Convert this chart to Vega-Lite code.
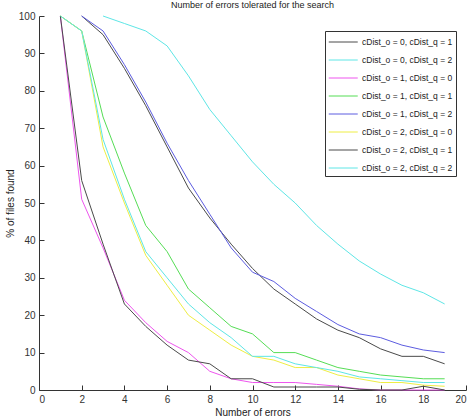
{
  "$schema": "https://vega.github.io/schema/vega-lite/v6.json",
  "width": 427,
  "height": 374,
  "autosize": {"type": "none"},
  "padding": {"left": 39, "top": 16, "right": 8, "bottom": 28},
  "background": "white",
  "title": {"text": "Number of errors tolerated for the search", "fontSize": 9, "fontWeight": "normal", "font": "Liberation Sans", "offset": 1, "anchor": "middle", "color": "#222"},
  "config": {
    "view": {"stroke": null},
    "font": "Liberation Sans",
    "axis": {"domainColor": "#333", "tickColor": "#333", "labelColor": "#333", "titleColor": "#222", "labelFont": "Liberation Sans", "titleFont": "Liberation Sans", "labelFontSize": 10, "titleFontSize": 10, "titleFontWeight": "normal", "grid": false, "tickSize": -5, "labelPadding": 9}
  },
  "data": {"values": [
    {"s": "cDist_o = 0, cDist_q = 1", "x": 2, "y": 100}, {"s": "cDist_o = 0, cDist_q = 1", "x": 3, "y": 95}, {"s": "cDist_o = 0, cDist_q = 1", "x": 4, "y": 86}, {"s": "cDist_o = 0, cDist_q = 1", "x": 5, "y": 76}, {"s": "cDist_o = 0, cDist_q = 1", "x": 6, "y": 65}, {"s": "cDist_o = 0, cDist_q = 1", "x": 7, "y": 54}, {"s": "cDist_o = 0, cDist_q = 1", "x": 8, "y": 46}, {"s": "cDist_o = 0, cDist_q = 1", "x": 9, "y": 39}, {"s": "cDist_o = 0, cDist_q = 1", "x": 10, "y": 32.5}, {"s": "cDist_o = 0, cDist_q = 1", "x": 11, "y": 27}, {"s": "cDist_o = 0, cDist_q = 1", "x": 12, "y": 23}, {"s": "cDist_o = 0, cDist_q = 1", "x": 13, "y": 19}, {"s": "cDist_o = 0, cDist_q = 1", "x": 14, "y": 16}, {"s": "cDist_o = 0, cDist_q = 1", "x": 15, "y": 14}, {"s": "cDist_o = 0, cDist_q = 1", "x": 16, "y": 11}, {"s": "cDist_o = 0, cDist_q = 1", "x": 17, "y": 9}, {"s": "cDist_o = 0, cDist_q = 1", "x": 18, "y": 9}, {"s": "cDist_o = 0, cDist_q = 1", "x": 19, "y": 7},
    {"s": "cDist_o = 0, cDist_q = 2", "x": 3, "y": 100}, {"s": "cDist_o = 0, cDist_q = 2", "x": 4, "y": 98}, {"s": "cDist_o = 0, cDist_q = 2", "x": 5, "y": 96}, {"s": "cDist_o = 0, cDist_q = 2", "x": 6, "y": 92}, {"s": "cDist_o = 0, cDist_q = 2", "x": 7, "y": 84}, {"s": "cDist_o = 0, cDist_q = 2", "x": 8, "y": 75}, {"s": "cDist_o = 0, cDist_q = 2", "x": 9, "y": 68}, {"s": "cDist_o = 0, cDist_q = 2", "x": 10, "y": 61}, {"s": "cDist_o = 0, cDist_q = 2", "x": 11, "y": 55}, {"s": "cDist_o = 0, cDist_q = 2", "x": 12, "y": 50}, {"s": "cDist_o = 0, cDist_q = 2", "x": 13, "y": 44}, {"s": "cDist_o = 0, cDist_q = 2", "x": 14, "y": 39}, {"s": "cDist_o = 0, cDist_q = 2", "x": 15, "y": 34.5}, {"s": "cDist_o = 0, cDist_q = 2", "x": 16, "y": 31}, {"s": "cDist_o = 0, cDist_q = 2", "x": 17, "y": 28}, {"s": "cDist_o = 0, cDist_q = 2", "x": 18, "y": 26}, {"s": "cDist_o = 0, cDist_q = 2", "x": 19, "y": 23},
    {"s": "cDist_o = 1, cDist_q = 0", "x": 1, "y": 100}, {"s": "cDist_o = 1, cDist_q = 0", "x": 2, "y": 51}, {"s": "cDist_o = 1, cDist_q = 0", "x": 3, "y": 38}, {"s": "cDist_o = 1, cDist_q = 0", "x": 4, "y": 24}, {"s": "cDist_o = 1, cDist_q = 0", "x": 5, "y": 18}, {"s": "cDist_o = 1, cDist_q = 0", "x": 6, "y": 13}, {"s": "cDist_o = 1, cDist_q = 0", "x": 7, "y": 10}, {"s": "cDist_o = 1, cDist_q = 0", "x": 8, "y": 5}, {"s": "cDist_o = 1, cDist_q = 0", "x": 9, "y": 3}, {"s": "cDist_o = 1, cDist_q = 0", "x": 10, "y": 2}, {"s": "cDist_o = 1, cDist_q = 0", "x": 11, "y": 2}, {"s": "cDist_o = 1, cDist_q = 0", "x": 12, "y": 2}, {"s": "cDist_o = 1, cDist_q = 0", "x": 13, "y": 1.5}, {"s": "cDist_o = 1, cDist_q = 0", "x": 14, "y": 1}, {"s": "cDist_o = 1, cDist_q = 0", "x": 15, "y": 0.3}, {"s": "cDist_o = 1, cDist_q = 0", "x": 16, "y": 0}, {"s": "cDist_o = 1, cDist_q = 0", "x": 17, "y": 0}, {"s": "cDist_o = 1, cDist_q = 0", "x": 18, "y": 0}, {"s": "cDist_o = 1, cDist_q = 0", "x": 19, "y": 0},
    {"s": "cDist_o = 1, cDist_q = 1", "x": 1, "y": 100}, {"s": "cDist_o = 1, cDist_q = 1", "x": 2, "y": 96}, {"s": "cDist_o = 1, cDist_q = 1", "x": 3, "y": 73}, {"s": "cDist_o = 1, cDist_q = 1", "x": 4, "y": 58}, {"s": "cDist_o = 1, cDist_q = 1", "x": 5, "y": 44}, {"s": "cDist_o = 1, cDist_q = 1", "x": 6, "y": 37}, {"s": "cDist_o = 1, cDist_q = 1", "x": 7, "y": 27}, {"s": "cDist_o = 1, cDist_q = 1", "x": 8, "y": 22}, {"s": "cDist_o = 1, cDist_q = 1", "x": 9, "y": 17}, {"s": "cDist_o = 1, cDist_q = 1", "x": 10, "y": 15}, {"s": "cDist_o = 1, cDist_q = 1", "x": 11, "y": 10}, {"s": "cDist_o = 1, cDist_q = 1", "x": 12, "y": 10}, {"s": "cDist_o = 1, cDist_q = 1", "x": 13, "y": 8}, {"s": "cDist_o = 1, cDist_q = 1", "x": 14, "y": 6}, {"s": "cDist_o = 1, cDist_q = 1", "x": 15, "y": 5}, {"s": "cDist_o = 1, cDist_q = 1", "x": 16, "y": 4}, {"s": "cDist_o = 1, cDist_q = 1", "x": 17, "y": 3.5}, {"s": "cDist_o = 1, cDist_q = 1", "x": 18, "y": 3}, {"s": "cDist_o = 1, cDist_q = 1", "x": 19, "y": 3},
    {"s": "cDist_o = 1, cDist_q = 2", "x": 2, "y": 100}, {"s": "cDist_o = 1, cDist_q = 2", "x": 3, "y": 96}, {"s": "cDist_o = 1, cDist_q = 2", "x": 4, "y": 87}, {"s": "cDist_o = 1, cDist_q = 2", "x": 5, "y": 77}, {"s": "cDist_o = 1, cDist_q = 2", "x": 6, "y": 66}, {"s": "cDist_o = 1, cDist_q = 2", "x": 7, "y": 56}, {"s": "cDist_o = 1, cDist_q = 2", "x": 8, "y": 47}, {"s": "cDist_o = 1, cDist_q = 2", "x": 9, "y": 38}, {"s": "cDist_o = 1, cDist_q = 2", "x": 10, "y": 31.5}, {"s": "cDist_o = 1, cDist_q = 2", "x": 11, "y": 29}, {"s": "cDist_o = 1, cDist_q = 2", "x": 12, "y": 24.5}, {"s": "cDist_o = 1, cDist_q = 2", "x": 13, "y": 21}, {"s": "cDist_o = 1, cDist_q = 2", "x": 14, "y": 17.5}, {"s": "cDist_o = 1, cDist_q = 2", "x": 15, "y": 15}, {"s": "cDist_o = 1, cDist_q = 2", "x": 16, "y": 14}, {"s": "cDist_o = 1, cDist_q = 2", "x": 17, "y": 12}, {"s": "cDist_o = 1, cDist_q = 2", "x": 18, "y": 10.7}, {"s": "cDist_o = 1, cDist_q = 2", "x": 19, "y": 10},
    {"s": "cDist_o = 2, cDist_q = 0", "x": 1, "y": 100}, {"s": "cDist_o = 2, cDist_q = 0", "x": 2, "y": 96}, {"s": "cDist_o = 2, cDist_q = 0", "x": 3, "y": 65}, {"s": "cDist_o = 2, cDist_q = 0", "x": 4, "y": 50}, {"s": "cDist_o = 2, cDist_q = 0", "x": 5, "y": 36}, {"s": "cDist_o = 2, cDist_q = 0", "x": 6, "y": 28}, {"s": "cDist_o = 2, cDist_q = 0", "x": 7, "y": 20}, {"s": "cDist_o = 2, cDist_q = 0", "x": 8, "y": 16}, {"s": "cDist_o = 2, cDist_q = 0", "x": 9, "y": 12}, {"s": "cDist_o = 2, cDist_q = 0", "x": 10, "y": 9}, {"s": "cDist_o = 2, cDist_q = 0", "x": 11, "y": 8}, {"s": "cDist_o = 2, cDist_q = 0", "x": 12, "y": 6}, {"s": "cDist_o = 2, cDist_q = 0", "x": 13, "y": 6}, {"s": "cDist_o = 2, cDist_q = 0", "x": 14, "y": 4}, {"s": "cDist_o = 2, cDist_q = 0", "x": 15, "y": 3}, {"s": "cDist_o = 2, cDist_q = 0", "x": 16, "y": 2}, {"s": "cDist_o = 2, cDist_q = 0", "x": 17, "y": 2}, {"s": "cDist_o = 2, cDist_q = 0", "x": 18, "y": 1.3}, {"s": "cDist_o = 2, cDist_q = 0", "x": 19, "y": 1},
    {"s": "cDist_o = 2, cDist_q = 1", "x": 1, "y": 100}, {"s": "cDist_o = 2, cDist_q = 1", "x": 2, "y": 56}, {"s": "cDist_o = 2, cDist_q = 1", "x": 3, "y": 39}, {"s": "cDist_o = 2, cDist_q = 1", "x": 4, "y": 23}, {"s": "cDist_o = 2, cDist_q = 1", "x": 5, "y": 17}, {"s": "cDist_o = 2, cDist_q = 1", "x": 6, "y": 12}, {"s": "cDist_o = 2, cDist_q = 1", "x": 7, "y": 8}, {"s": "cDist_o = 2, cDist_q = 1", "x": 8, "y": 7}, {"s": "cDist_o = 2, cDist_q = 1", "x": 9, "y": 3}, {"s": "cDist_o = 2, cDist_q = 1", "x": 10, "y": 3}, {"s": "cDist_o = 2, cDist_q = 1", "x": 11, "y": 0.8}, {"s": "cDist_o = 2, cDist_q = 1", "x": 12, "y": 0.8}, {"s": "cDist_o = 2, cDist_q = 1", "x": 13, "y": 0.8}, {"s": "cDist_o = 2, cDist_q = 1", "x": 14, "y": 0.8}, {"s": "cDist_o = 2, cDist_q = 1", "x": 15, "y": 0.2}, {"s": "cDist_o = 2, cDist_q = 1", "x": 16, "y": 0}, {"s": "cDist_o = 2, cDist_q = 1", "x": 17, "y": 0}, {"s": "cDist_o = 2, cDist_q = 1", "x": 18, "y": 1}, {"s": "cDist_o = 2, cDist_q = 1", "x": 19, "y": 0},
    {"s": "cDist_o = 2, cDist_q = 2", "x": 1, "y": 100}, {"s": "cDist_o = 2, cDist_q = 2", "x": 2, "y": 96}, {"s": "cDist_o = 2, cDist_q = 2", "x": 3, "y": 67}, {"s": "cDist_o = 2, cDist_q = 2", "x": 4, "y": 51}, {"s": "cDist_o = 2, cDist_q = 2", "x": 5, "y": 37}, {"s": "cDist_o = 2, cDist_q = 2", "x": 6, "y": 30}, {"s": "cDist_o = 2, cDist_q = 2", "x": 7, "y": 23}, {"s": "cDist_o = 2, cDist_q = 2", "x": 8, "y": 18}, {"s": "cDist_o = 2, cDist_q = 2", "x": 9, "y": 14}, {"s": "cDist_o = 2, cDist_q = 2", "x": 10, "y": 9}, {"s": "cDist_o = 2, cDist_q = 2", "x": 11, "y": 9}, {"s": "cDist_o = 2, cDist_q = 2", "x": 12, "y": 7}, {"s": "cDist_o = 2, cDist_q = 2", "x": 13, "y": 6}, {"s": "cDist_o = 2, cDist_q = 2", "x": 14, "y": 5}, {"s": "cDist_o = 2, cDist_q = 2", "x": 15, "y": 3.5}, {"s": "cDist_o = 2, cDist_q = 2", "x": 16, "y": 3}, {"s": "cDist_o = 2, cDist_q = 2", "x": 17, "y": 2.5}, {"s": "cDist_o = 2, cDist_q = 2", "x": 18, "y": 2}, {"s": "cDist_o = 2, cDist_q = 2", "x": 19, "y": 2}
  ]},
  "mark": {"type": "line", "strokeWidth": 1},
  "encoding": {
    "x": {"field": "x", "type": "quantitative", "scale": {"domain": [0, 20], "nice": false}, "axis": {"title": "Number of errors", "values": [0, 2, 4, 6, 8, 10, 12, 14, 16, 18, 20], "titlePadding": 3}},
    "y": {"field": "y", "type": "quantitative", "scale": {"domain": [0, 100], "nice": false}, "axis": {"title": "% of files found", "values": [0, 10, 20, 30, 40, 50, 60, 70, 80, 90, 100], "titlePadding": 3}},
    "color": {"field": "s", "type": "nominal",
      "scale": {"domain": ["cDist_o = 0, cDist_q = 1", "cDist_o = 0, cDist_q = 2", "cDist_o = 1, cDist_q = 0", "cDist_o = 1, cDist_q = 1", "cDist_o = 1, cDist_q = 2", "cDist_o = 2, cDist_q = 0", "cDist_o = 2, cDist_q = 1", "cDist_o = 2, cDist_q = 2"],
        "range": ["#4a4a4a", "#5ee6e6", "#ee55ee", "#55dd55", "#5c5ce0", "#eeee44", "#4a4a4a", "#5ee6e6"]},
      "legend": {"orient": "none", "legendX": 286, "legendY": 15, "title": null, "strokeColor": "#333", "fillColor": "white", "padding": 3, "symbolType": "M-1,0H3", "symbolSize": 210, "symbolStrokeWidth": 1, "labelFontSize": 8.5, "labelFont": "Liberation Sans", "labelColor": "#222", "labelOffset": 18, "rowPadding": 5, "cornerRadius": 0}
    }
  }
}
